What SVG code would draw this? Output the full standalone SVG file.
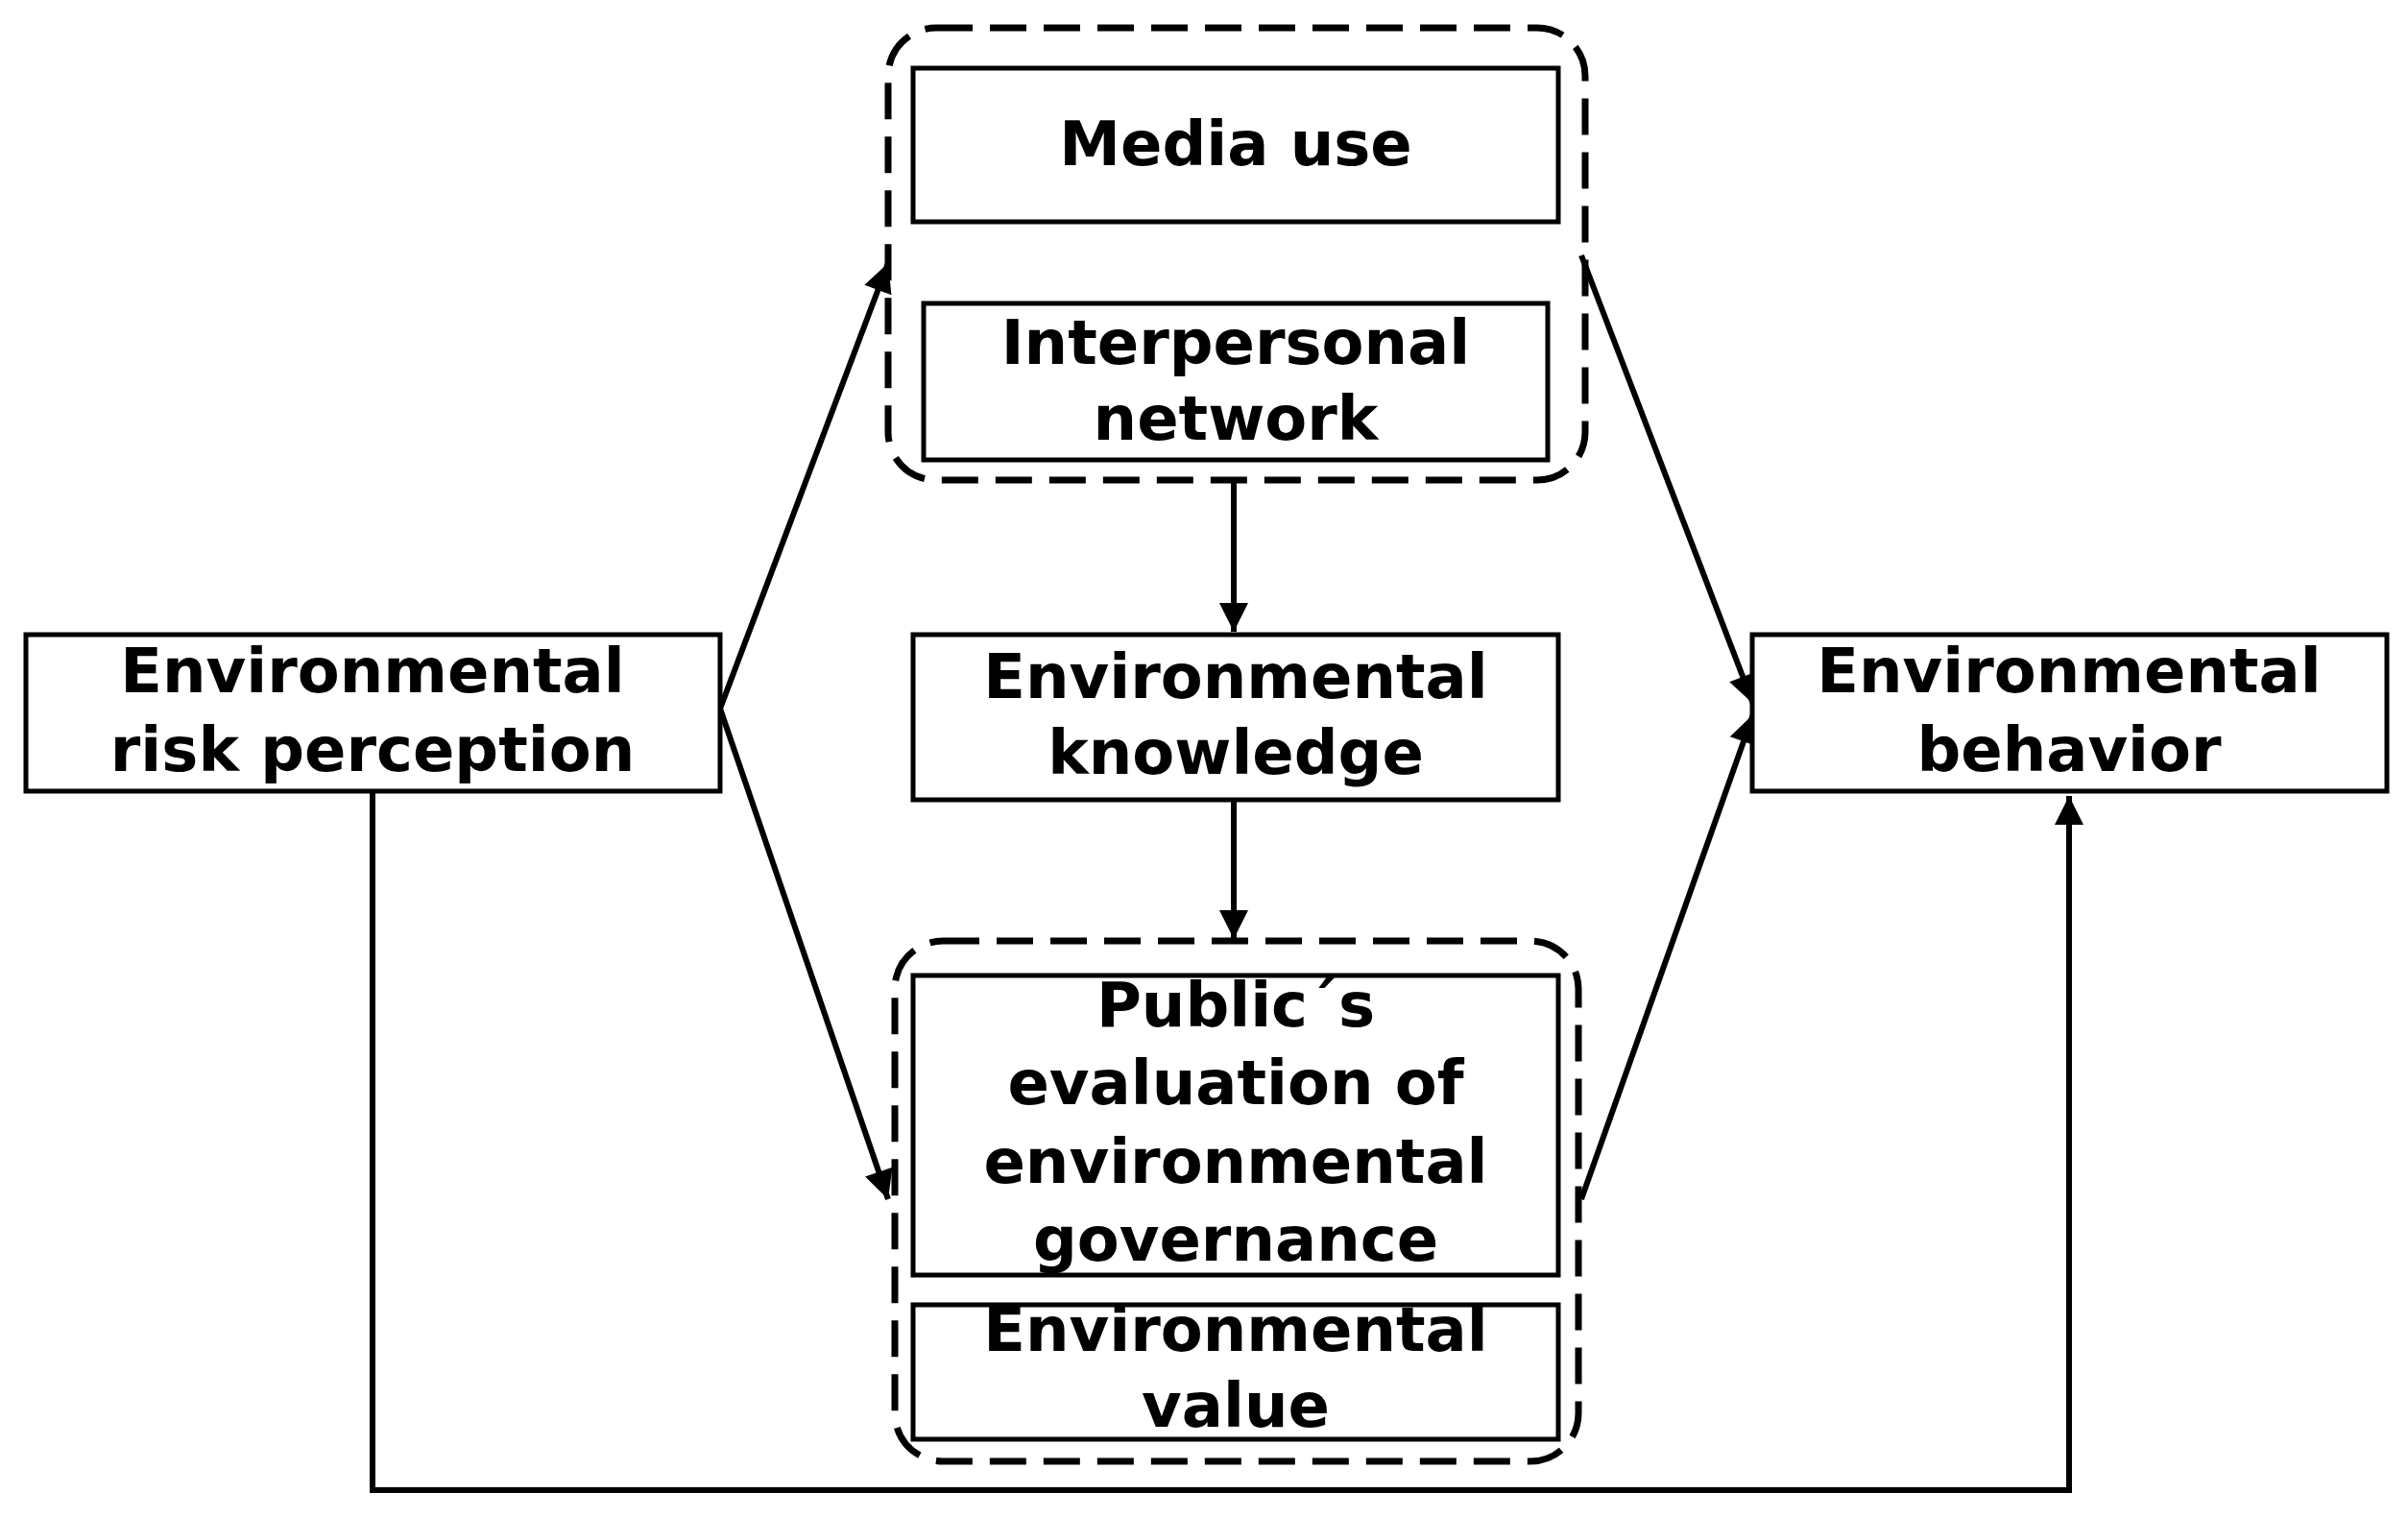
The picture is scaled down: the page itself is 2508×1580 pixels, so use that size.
<svg xmlns="http://www.w3.org/2000/svg" width="2508" height="1580" viewBox="0 0 2508 1580">
<style>
.b{fill:#fff;stroke:#000;stroke-width:5}
.d{fill:none;stroke:#000;stroke-width:7;stroke-dasharray:38 18}
.t{font-family:"DejaVu Sans",sans-serif;font-weight:bold;font-size:64px;text-anchor:middle;fill:#000}
.c{fill:none;stroke:#000;stroke-width:6}
</style>
<defs><marker id="a" viewBox="0 0 10 10" refX="10" refY="5" markerWidth="7" markerHeight="5" orient="auto" markerUnits="strokeWidth"><path d="M0,0L10,5L0,10z"/></marker></defs>
<rect width="2508" height="1580" fill="#fff"/>
<g id="connectors">
<line class="c" x1="750" y1="738" x2="925" y2="274" marker-end="url(#a)"/>
<line class="c" x1="750" y1="738" x2="925" y2="1249" marker-end="url(#a)"/>
<line class="c" x1="1647" y1="266" x2="1826" y2="733" marker-end="url(#a)"/>
<line class="c" x1="1647" y1="1249" x2="1826" y2="744" marker-end="url(#a)"/>
<line class="c" x1="1285" y1="500" x2="1285" y2="658" marker-end="url(#a)"/>
<line class="c" x1="1285" y1="833" x2="1285" y2="978" marker-end="url(#a)"/>
<polyline class="c" points="388,824 388,1552 2155,1552 2155,829" marker-end="url(#a)"/>
</g>
<g id="group-top"><rect class="d" x="925" y="29" width="726" height="471" rx="50"/></g>
<g id="group-bottom"><rect class="d" x="932" y="980" width="712" height="542" rx="50"/></g>
<g id="media"><rect class="b" x="951" y="71" width="672" height="160"/><text class="t" x="1287" y="172">Media use</text></g>
<g id="interpersonal"><rect class="b" x="962" y="316" width="650" height="163"/><text class="t" x="1287" y="379">Interpersonal</text><text class="t" x="1287" y="458">network</text></g>
<g id="knowledge"><rect class="b" x="951" y="661" width="672" height="172"/><text class="t" x="1287" y="727">Environmental</text><text class="t" x="1287" y="806">knowledge</text></g>
<g id="evaluation"><rect class="b" x="951" y="1016" width="672" height="312"/><text class="t" x="1287" y="1069">Public´s</text><text class="t" x="1287" y="1150">evaluation of</text><text class="t" x="1287" y="1232">environmental</text><text class="t" x="1287" y="1313">governance</text></g>
<g id="value"><rect class="b" x="951" y="1359" width="672" height="140"/><text class="t" x="1287" y="1407">Environmental</text><text class="t" x="1287" y="1486">value</text></g>
<g id="risk"><rect class="b" x="27" y="661" width="723" height="163"/><text class="t" x="388" y="721">Environmental</text><text class="t" x="388" y="803">risk perception</text></g>
<g id="behavior"><rect class="b" x="1825" y="661" width="661" height="163"/><text class="t" x="2155" y="721">Environmental</text><text class="t" x="2155" y="803">behavior</text></g>
</svg>
